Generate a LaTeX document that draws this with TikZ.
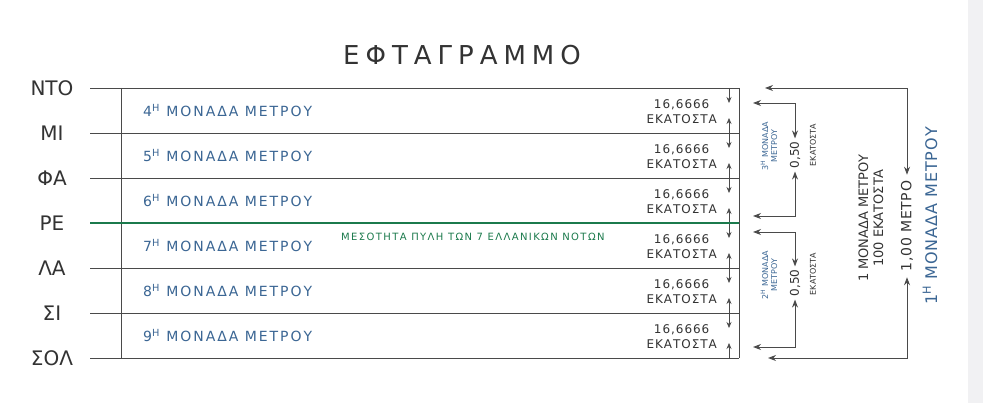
\documentclass[tikz,border=0pt]{standalone}
\usepackage{fontspec}
\setmainfont{DejaVu Sans}
\usetikzlibrary{arrows.meta,calc}
\definecolor{unitblue}{HTML}{3B6694}
\definecolor{mesogreen}{HTML}{1B7A4C}
\definecolor{rulegray}{HTML}{4A4A4A}
\definecolor{inkgray}{HTML}{333333}
\definecolor{stripgray}{HTML}{F1F1F3}

\begin{document}
\begin{tikzpicture}[x=1pt,y=-1pt,every node/.style={inner sep=1pt},
  notename/.style={font=\fontsize{20}{20}\selectfont, text=inkgray},
  unitname/.style={font=\fontsize{14}{14}\selectfont\addfontfeatures{LetterSpace=14}, text=unitblue, anchor=west},
  cmtext/.style={font=\fontsize{12}{15}\selectfont\addfontfeatures{LetterSpace=8}, text=inkgray, align=center, anchor=east},
  rule/.style={draw=rulegray, line width=0.9pt},
  mesoline/.style={draw=mesogreen, line width=2.8pt},
  tick/.style={draw=rulegray, line width=0.7pt, -{Stealth[length=6pt,width=5pt]}},
  span/.style={draw=rulegray, line width=0.9pt, {Stealth[length=8pt,width=6pt]}-{Stealth[length=8pt,width=6pt]}},
  vlabel/.style={rotate=90, align=center, text=inkgray}]
  \useasboundingbox (0,0) rectangle (983,403);
  \fill[white] (0,0) rectangle (968,403);
  \fill[stripgray] (968,0) rectangle (983,403);

  % title
  \node[font=\fontsize{26}{26}\selectfont\addfontfeatures{LetterSpace=23}, text=inkgray] (title) at (462,55) {ΕΦΤΑΓΡΑΜΜΟ};

  % notes and lines
  \foreach \name/\y [count=\i] in {ΝΤΟ/88,ΜΙ/133,ΦΑ/178,ΡΕ/223,ΛΑ/268,ΣΙ/313,ΣΟΛ/358}{
    \node[notename] (note\i) at (52,\y) {\name};
    \coordinate (lft\i) at (90,\y);
    \coordinate (rgt\i) at (739,\y);
    \coordinate (arw\i) at (729,\y);
  }
  \coordinate (frmtop) at (121,88);
  \coordinate (frmbot) at (121,358);
  \foreach \i in {1,2,3,5,6,7}
    \draw[rule] (lft\i) -- (rgt\i);
  \draw[rule] (frmtop) -- (frmbot);
  \draw[rule] (rgt1) -- (rgt7);

  % rows
  \foreach \k/\i/\j in {4/1/2,5/2/3,6/3/4,7/4/5,8/5/6,9/6/7}{
    \node[unitname] (unit\k) at ($(lft\i)!0.5!(lft\j)+(52,0)$) {\k\textsuperscript{Η} ΜΟΝΑΔΑ ΜΕΤΡΟΥ};
    \node[cmtext] (cm\k) at ($(rgt\i)!0.5!(rgt\j)+(-21,1.5)$) {16,6666\\ΕΚΑΤΟΣΤΑ};
    \draw[tick] (arw\i) -- ++(0,15);
    \draw[tick] (arw\j) -- ++(0,-15);
  }
  \draw[mesoline] (lft4) -- (rgt4);
  \node[anchor=west, font=\fontsize{10}{10}\selectfont\addfontfeatures{LetterSpace=14}, text=mesogreen] (meso) at (340,237) {ΜΕΣΟΤΗΤΑ ΠΥΛΗ ΤΩΝ 7 ΕΛΛΑΝΙΚΩΝ ΝΟΤΩΝ};

  % 3rd unit
  \coordinate (u3top) at (753,103);
  \coordinate (u3bot) at (753,216);
  \node[vlabel, font=\fontsize{12}{12}\selectfont] (half3) at (795,155) {0,50};
  \node[vlabel, font=\fontsize{8}{8}\selectfont] (cmhalf3) at (813,145) {ΕΚΑΤΟΣΤΑ};
  \node[vlabel, text=unitblue, font=\fontsize{8}{9}\selectfont] (name3) at (769,146) {3\textsuperscript{Η} ΜΟΝΑΔΑ\\ΜΕΤΡΟΥ};
  \draw[span, shorten <=2pt] (half3.east) |- (u3top);
  \draw[span, shorten <=2pt] (half3.west) |- (u3bot);

  % 2nd unit
  \coordinate (u2top) at (753,232);
  \coordinate (u2bot) at (753,347);
  \node[vlabel, font=\fontsize{12}{12}\selectfont] (half2) at (795,283) {0,50};
  \node[vlabel, font=\fontsize{8}{8}\selectfont] (cmhalf2) at (813,274) {ΕΚΑΤΟΣΤΑ};
  \node[vlabel, text=unitblue, font=\fontsize{8}{9}\selectfont] (name2) at (769,275) {2\textsuperscript{Η} ΜΟΝΑΔΑ\\ΜΕΤΡΟΥ};
  \draw[span, shorten <=2pt] (half2.east) |- (u2top);
  \draw[span, shorten <=2pt] (half2.west) |- (u2bot);

  % 1st unit
  \coordinate (u1top) at (765,88);
  \coordinate (u1bot) at (768,358);
  \node[vlabel, font=\fontsize{13}{15}\selectfont] (whole) at (871,218) {1 ΜΟΝΑΔΑ ΜΕΤΡΟΥ\\100 ΕΚΑΤΟΣΤΑ};
  \node[vlabel, font=\fontsize{14}{14}\selectfont\addfontfeatures{LetterSpace=5}] (metre) at (907,226) {1,00 ΜΕΤΡΟ};
  \node[vlabel, text=unitblue, font=\fontsize{16}{16}\selectfont\addfontfeatures{LetterSpace=6}] (name1) at (930,216) {1\textsuperscript{Η} ΜΟΝΑΔΑ ΜΕΤΡΟΥ};
  \draw[span, shorten <=5pt] (metre.east) |- (u1top);
  \draw[span, shorten <=5pt] (metre.west) |- (u1bot);
\end{tikzpicture}
\end{document}
